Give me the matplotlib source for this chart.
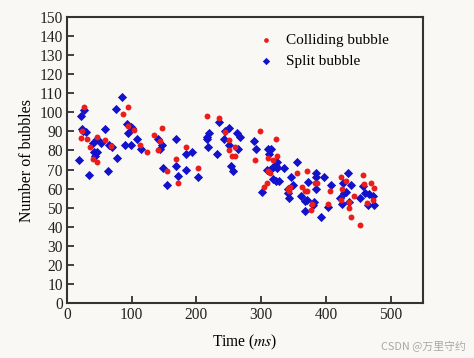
import matplotlib
matplotlib.use("Agg")
import matplotlib.pyplot as plt

plt.rcParams['font.family'] = ['Liberation Serif', 'DejaVu Serif']
plt.rcParams['mathtext.fontset'] = 'stix'

# Colliding bubble (red)
coll_t = [26, 22, 31, 35, 46, 40, 47, 23, 59, 67.6, 86, 94, 94, 103.6, 113, 146.5, 135, 124, 144, 140,
          184.6, 168.6, 155, 203, 171, 217, 235, 244, 250.6, 251, 255, 259, 260, 298.6, 290.8, 310.5,
          310, 309, 304, 323, 325, 317.6, 313, 356, 371, 383.7, 387, 363, 368, 371, 407, 341, 343, 345,
          378.5, 403, 377.5, 424, 431.6, 457, 470, 458.6, 474, 425, 443, 473, 423, 463.6, 436, 439, 453, 436]
coll_n = [103, 86.5, 86, 82, 87, 75.5, 74, 90, 85.5, 82.5, 99, 103, 93, 90.7, 83, 92, 88, 79, 85, 80,
          82, 75.5, 69, 71, 63, 98, 97, 89.5, 85.5, 80, 77, 77, 82, 90, 75, 76,
          69, 63, 61, 86, 77, 75, 68, 68, 69, 63, 63, 60.7, 59, 59, 59, 60, 58.7, 61,
          52, 52, 49, 66, 64, 67, 63, 62.6, 60.5, 59.6, 56, 54, 54, 52.6, 50, 45, 41, 53]

# Split bubble (blue)
split_t = [26, 22, 23, 25, 29.5, 40, 46, 42, 47, 43, 18.6, 34.5, 52, 59, 65, 69, 64, 78, 76, 85.6, 93,
           101, 94, 99, 108, 89, 99, 114, 140, 146.5, 144, 168, 183.5, 193, 168.6, 148, 184, 172, 154,
           203, 235, 249.6, 220, 217, 216, 218.6, 231.6, 243, 244.4, 249.6, 262.5, 267.6, 264, 253.7,
           257, 289, 292, 310.5, 315.6, 312.5, 309, 313, 301, 325, 323, 319, 325, 335, 318, 323, 328,
           356, 385, 396.5, 384.5, 346.5, 349, 371.7, 408, 385, 342, 343.5, 341, 362, 371, 367, 381,
           379.5, 404, 392.5, 367, 434, 426.5, 439, 458, 431, 427.6, 461, 466, 472, 453, 421, 436, 425,
           464.6, 474]
split_n = [101, 98, 91, 90, 89.5, 84, 86, 79, 79, 77, 75, 67, 84, 91, 83, 82, 69, 76, 102, 108, 94,
           92, 89, 92.5, 86, 83, 83, 81, 86, 83, 81, 86, 78, 79, 72, 71, 70, 66.4, 62,
           66, 95, 92, 89, 87, 86, 82, 78, 86, 90, 83, 89, 87, 81, 72,
           69, 85, 81, 81, 81, 78, 70, 70, 58, 74, 72, 71.5, 71, 71, 65, 64, 64,
           74, 68, 66, 66, 66, 62, 63.7, 62, 60, 57.5, 55, 59.6, 56, 54, 53.6, 53,
           51.4, 50.5, 45, 48, 68, 63, 62, 61.5, 58, 57.5, 57.5, 57, 56, 55, 55, 53, 52,
           51.4, 51.4]

W, H = 474, 358
fig = plt.figure(figsize=(W / 100, H / 100), dpi=100, facecolor='#f9f8f4')
ax = fig.add_axes([67 / W, 1 - 303 / H, (423 - 67) / W, (303 - 17) / H])
ax.set_facecolor('#f9f8f4')

red = '#ea1c1c'
blue = '#1212cc'
ax.scatter(coll_t, coll_n, s=18, marker='o', color=red, linewidths=0, label='Colliding bubble', zorder=3)
ax.scatter(split_t, split_n, s=22, marker='D', color=blue, linewidths=0, label='Split bubble', zorder=2)

ax.set_xlim(0, 550)
ax.set_ylim(0, 150)
ax.set_xticks([0, 100, 200, 300, 400, 500])
ax.set_yticks(range(0, 151, 10))
ax.tick_params(direction='in', length=5, width=1.2, labelsize=11.2, colors='#222222', pad=3)
for sp in ax.spines.values():
    sp.set_linewidth(1.5)
    sp.set_color('#333333')

ax.set_xlabel('Time ($\\mathit{ms}$)', fontsize=11.2, labelpad=7)
ax.set_ylabel('Number of bubbles', fontsize=11.4, labelpad=3)

leg = ax.legend(loc='upper left', bbox_to_anchor=(252 / W, 1 - 27 / H), bbox_transform=fig.transFigure,
                frameon=False, fontsize=11, handlelength=1.0, handletextpad=0.8, labelspacing=0.5,
                markerscale=0.8, borderaxespad=0)

fig.text(466 / W, 1 - 350 / H, 'CSDN @万里守约', ha='right', va='baseline', fontsize=7.8,
         color='#a8a8a8', family=['Noto Sans CJK SC', 'DejaVu Sans'])

fig.savefig('out.png', dpi=100, facecolor=fig.get_facecolor())
